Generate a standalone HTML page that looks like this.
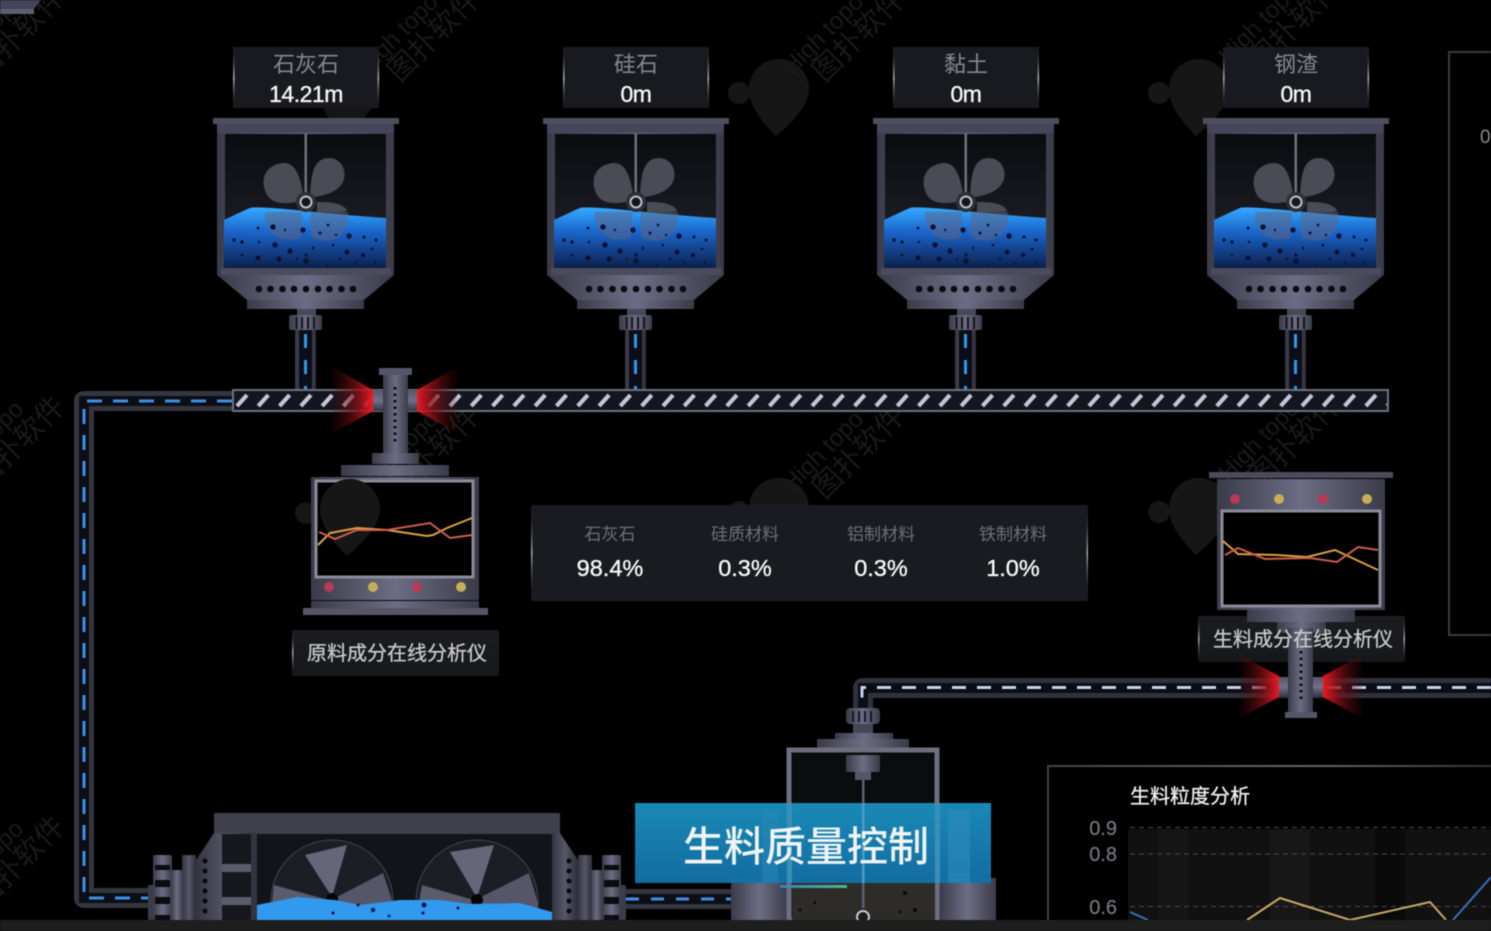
<!DOCTYPE html>
<html lang="zh"><head><meta charset="utf-8"><title>生料质量控制</title>
<style>
html,body{margin:0;padding:0;background:#000;width:1491px;height:931px;overflow:hidden}
svg{display:block;filter:blur(.5px)}
text{font-family:"Liberation Sans","Noto Sans CJK SC",sans-serif}
</style></head><body>
<svg width="1491" height="931" viewBox="0 0 1491 931" xmlns="http://www.w3.org/2000/svg">
<defs>
<linearGradient id="metalH" x1="0" x2="1" y1="0" y2="0"><stop offset="0" stop-color="#3a3b48"/><stop offset=".5" stop-color="#6c6d85"/><stop offset="1" stop-color="#3a3b48"/></linearGradient>
<linearGradient id="metalV" x1="0" x2="0" y1="0" y2="1"><stop offset="0" stop-color="#55566a"/><stop offset=".5" stop-color="#70718a"/><stop offset="1" stop-color="#33343f"/></linearGradient>
<linearGradient id="sideH" x1="0" x2="1" y1="0" y2="0"><stop offset="0" stop-color="#33343f"/><stop offset=".5" stop-color="#565768"/><stop offset="1" stop-color="#2c2d37"/></linearGradient>
<linearGradient id="win" x1="0" x2="0" y1="0" y2="1"><stop offset="0" stop-color="#0b0c10"/><stop offset="1" stop-color="#23252e"/></linearGradient>
<linearGradient id="liq" x1="0" x2="0" y1="0" y2="1"><stop offset="0" stop-color="#34aaff"/><stop offset=".4" stop-color="#1b66cc"/><stop offset="1" stop-color="#0c1f4c"/></linearGradient>
<linearGradient id="redL" x1="1" x2="0" y1="0" y2="0"><stop offset="0" stop-color="#f01820"/><stop offset=".4" stop-color="#8a0f16" stop-opacity=".75"/><stop offset="1" stop-color="#500a10" stop-opacity=".12"/></linearGradient>
<linearGradient id="redR" x1="0" x2="1" y1="0" y2="0"><stop offset="0" stop-color="#f01820"/><stop offset=".4" stop-color="#8a0f16" stop-opacity=".75"/><stop offset="1" stop-color="#500a10" stop-opacity=".12"/></linearGradient>
<linearGradient id="banner" x1="0" x2="0" y1="0" y2="1"><stop offset="0" stop-color="#1a8fbc"/><stop offset="1" stop-color="#1470a8"/></linearGradient>
<linearGradient id="lab" x1="0" x2="0" y1="0" y2="1"><stop offset="0" stop-color="#1b1c20"/><stop offset="1" stop-color="#17181c"/></linearGradient>
<linearGradient id="edge" x1="0" x2="0" y1="0" y2="1"><stop offset="0" stop-color="#555" stop-opacity="0"/><stop offset=".5" stop-color="#aaa"/><stop offset="1" stop-color="#555" stop-opacity="0"/></linearGradient>
<linearGradient id="pnl" x1="0" x2="1" y1="0" y2="0"><stop offset="0" stop-color="#444"/><stop offset=".6" stop-color="#666"/><stop offset="1" stop-color="#333"/></linearGradient>
<linearGradient id="gl" x1="0" x2="1" y1="0" y2="0"><stop offset="0" stop-color="#3d7fb5"/><stop offset="1" stop-color="#52b88c"/></linearGradient>
<pattern id="hatch" width="21.3" height="22" patternUnits="userSpaceOnUse" x="232" y="389">
<rect width="21.3" height="22" fill="#14161f"/>
<line x1="5" y1="17" x2="15" y2="6" stroke="#c4c6d6" stroke-width="4.200"/>
</pattern>
<path id="wd" d="M-30 -4a30 30 0 1 1 60 0c0 18-20 36-33 47c-10-10-27-28-27-47z" fill="#161616"/>
<g id="wm"><use href="#wd"/><circle cx="-40" cy="0" r="11" fill="#161616"/></g>
<g id="wt" fill="#1a1a1a">
<text x="0" y="0" font-size="24" transform="rotate(-45)">High topo</text>
<text x="18" y="28" font-size="29" transform="rotate(-45)">图扑软件</text>
</g>
<g id="hopper">
<rect x="-72" y="17" width="146" height="61" fill="#191a20"/>
<rect x="-72" y="22" width="1.6" height="52" fill="url(#edge)"/>
<rect x="72.5" y="22" width="1.6" height="52" fill="url(#edge)"/>
<rect x="-92" y="88" width="186" height="6" fill="#4e4f5e"/>
<rect x="-88" y="94" width="177" height="151" fill="url(#metalH)"/>
<rect x="-88" y="94" width="177" height="9" fill="#45465a"/>
<rect x="-80" y="104" width="161" height="141" fill="url(#win)"/>
<rect x="-.5" y="104" width="2.5" height="68" fill="#70717c"/>
<g fill="#494b55">
<path d="M-1 170C-8 172-30 178-38 165C-46 150-40 135-22 133C-8 132-4 150-1 170z"/>
<path d="M5 168C6 145 8 128 24 128C38 128 44 145 36 155C28 165 14 166 5 168z"/>
<path d="M12 172C22 172 36 172 42 180C42 182 36 182 30 182L12 182z"/>
</g>
<path d="M-81 190Q-60 180-55 178T0 181T81 188V238H-81z" fill="url(#liq)"/>
<path d="M-40 182C-42 205-22 214-5 208C-3 200-3 190-3 182zM6 182C5 195 5 205 8 208C26 216 46 206 43 182z" fill="#5f6480" opacity=".5"/>
<circle cx="1" cy="172" r="10" fill="#2e2f38"/><circle cx="1" cy="172" r="6.5" fill="#c0c0c8"/><circle cx="1" cy="172" r="4.5" fill="#15161c"/>
<g fill="#0a1238">
<circle cx="-47" cy="228" r="2.5"/><circle cx="-26" cy="229" r="2.6"/><circle cx="-8" cy="229" r="1.2"/><circle cx="1" cy="225" r="1.6"/><circle cx="42" cy="222" r="2.5"/><circle cx="58" cy="225" r="2.1"/><circle cx="-63" cy="225" r="1.3"/><circle cx="-47" cy="198" r="1.5"/><circle cx="-32" cy="197" r="2.7"/><circle cx="-2" cy="200" r="2.7"/><circle cx="44" cy="206" r="2.7"/><circle cx="-71" cy="210" r="1.7"/><circle cx="-63" cy="212" r="1.7"/><circle cx="-46" cy="212" r="1.2"/><circle cx="-30" cy="215" r="2.7"/><circle cx="-15" cy="221" r="2.7"/><circle cx="15" cy="203" r="1.5"/><circle cx="23" cy="195" r="1.4"/><circle cx="59" cy="207" r="1.5"/><circle cx="71" cy="210" r="1.5"/><circle cx="67" cy="219" r="1.4"/><circle cx="31" cy="205" r="1.2"/><circle cx="28" cy="215" r="1.3"/><circle cx="8" cy="218" r="1.3"/><circle cx="1" cy="231" r="2.7"/><circle cx="-20" cy="200" r="1.2"/><circle cx="22" cy="236" r="1.3"/><circle cx="50" cy="233" r="1.1"/><circle cx="70" cy="233" r="1.2"/><circle cx="35" cy="229" r="1.2"/><circle cx="-45" cy="238" r="1.2"/></g>
<path d="M-88 245H89L59 270H-58z" fill="url(#metalH)"/>
<rect x="-84" y="238" width="170" height="7" fill="#4a4b5c"/>
<g fill="#0a0a10"><circle cx="-46" cy="259" r="3.3"/><circle cx="-34.500" cy="259" r="3.300"/><circle cx="-22.500" cy="259" r="3.300"/><circle cx="-11" cy="259" r="3.300"/><circle cx="1" cy="259" r="3.300"/><circle cx="13" cy="259" r="3.300"/><circle cx="24.500" cy="259" r="3.300"/><circle cx="36.500" cy="259" r="3.300"/><circle cx="48" cy="259" r="3.300"/></g>
<rect x="-58" y="270" width="117" height="9" fill="url(#metalH)"/>
<rect x="-8" y="279" width="19" height="6" fill="#474858"/>
<rect x="-16" y="285" width="33" height="15" rx="2" fill="url(#metalH)"/>
<g stroke="#15151c" stroke-width="2"><line x1="-8.500" y1="287" x2="-8.500" y2="299"/><line x1="-3" y1="287" x2="-3" y2="299"/><line x1="3" y1="287" x2="3" y2="299"/><line x1="9" y1="287" x2="9" y2="299"/></g>
<rect x="-10" y="300" width="21" height="60" fill="url(#sideH)"/>
<rect x="-6" y="300" width="13" height="60" fill="#0b0e18"/>
<line x1=".5" y1="304" x2=".5" y2="360" stroke="#2f9be8" stroke-width="3" stroke-dasharray="14 12"/>
</g>
</defs>

<rect width="1491" height="931" fill="#000"/>

<!-- watermarks -->
<use href="#wm" x="779" y="93"/><use href="#wm" x="1199" y="93"/><use href="#wm" x="348" y="93"/>
<use href="#wm" x="779" y="512"/><use href="#wm" x="1199" y="512"/><circle cx="306" cy="513" r="11" fill="#161616"/>
<use href="#wt" x="792" y="76"/><use href="#wt" x="367" y="76"/><use href="#wt" x="1228" y="65"/><use href="#wt" x="-48" y="74"/>
<use href="#wt" x="792" y="493"/><use href="#wt" x="367" y="493"/><use href="#wt" x="1228" y="482"/><use href="#wt" x="-48" y="483"/>
<use href="#wt" x="-48" y="903"/>

<!-- top-left fragment -->
<path d="M0 0H41L30 14H0z" fill="#43445a"/><rect y="9" width="34" height="5" fill="#5e5f72"/>

<!-- right frame -->
<path d="M1491 52H1449V635H1491" fill="none" stroke="#3b3b3d" stroke-width="2"/>
<text x="1480" y="143" font-size="19" fill="#8a8a8a">0</text>

<!-- main pipes -->
<path d="M232 401H84V898H150" fill="none" stroke="#34363f" stroke-width="20" stroke-linejoin="round"/>
<path d="M232 401H84V898H150" fill="none" stroke="#0c0e16" stroke-width="10"/>
<path d="M232 401H84V898H150" fill="none" stroke="#3b8fe6" stroke-width="3" stroke-dasharray="15 11"/>
<path d="M622 899H735" fill="none" stroke="#34363f" stroke-width="20"/>
<path d="M622 899H735" fill="none" stroke="#0c0e16" stroke-width="10"/>
<path d="M626 899H735" fill="none" stroke="#3b8fe6" stroke-width="3" stroke-dasharray="13 12"/>

<!-- hoppers -->
<use href="#hopper" x="305" y="30"/><use href="#hopper" x="635" y="30"/><use href="#hopper" x="965" y="30"/><use href="#hopper" x="1295" y="30"/>
<g text-anchor="middle" font-size="22" fill="#858691">
<text x="306" y="72">石灰石</text><text x="636" y="72">硅石</text><text x="966" y="72">黏土</text><text x="1296" y="72">钢渣</text>
</g>
<g text-anchor="middle" font-size="23" fill="#f8f8f8" stroke="#f8f8f8" stroke-width=".35" letter-spacing="-.5">
<text x="306" y="102">14.21m</text><text x="636" y="102">0m</text><text x="966" y="102">0m</text><text x="1296" y="102">0m</text>
</g>

<!-- belt -->
<rect x="233" y="390" width="1155" height="21" fill="url(#hatch)" stroke="#6e7080" stroke-width="2"/>

<!-- left valve + analyzer -->
<polygon points="373,390 333,367 333,433 373,411" fill="url(#redL)"/>
<polygon points="417,390 457,367 457,433 417,411" fill="url(#redR)"/>
<rect x="373" y="390" width="44" height="21" fill="url(#metalV)"/>
<rect x="383" y="372" width="25" height="84" fill="url(#metalH)"/>
<rect x="379" y="368" width="33" height="7" fill="#55566a"/>
<line x1="395" y1="387" x2="395" y2="443" stroke="#0d0e1a" stroke-width="3" stroke-dasharray="2.500 4"/>
<rect x="372" y="453" width="47" height="11" fill="url(#metalH)"/>
<rect x="341" y="465" width="108" height="11" fill="url(#metalH)"/>
<rect x="311" y="477" width="168" height="123" fill="url(#metalH)"/>
<rect x="316" y="481" width="157" height="96" fill="#000" stroke="#8a8b99" stroke-width="3"/>
<use href="#wd" x="350" y="513"/>
<polyline points="318,545 330,533 357,528 387,530 427,536 433,535 447,528 472,518" fill="none" stroke="#e0a040" stroke-width="2"/>
<polyline points="319,532 335,539 357,530 387,530 430,523 450,538 472,535" fill="none" stroke="#d05c4e" stroke-width="2"/>
<circle cx="329" cy="587" r="5" fill="#b83a56"/><circle cx="373" cy="587" r="5" fill="#c8ae56"/><circle cx="417" cy="587" r="5" fill="#b83a56"/><circle cx="461" cy="587" r="5" fill="#c8ae56"/>
<rect x="311" y="601" width="168" height="7" fill="url(#metalH)"/>
<rect x="311" y="600" width="168" height="1" fill="#0a0a12"/>
<rect x="303" y="608" width="185" height="7" fill="#55566a"/>
<rect x="292" y="630" width="207" height="46" rx="2" fill="url(#lab)"/>
<rect x="292" y="634" width="1.500" height="38" fill="url(#edge)"/>
<text x="397" y="660" font-size="20" fill="#c9c9ca" stroke="#c9c9ca" stroke-width=".3" text-anchor="middle">原料成分在线分析仪</text>

<!-- stats -->
<rect x="531" y="505" width="557" height="96" rx="2" fill="#191b21"/>
<rect x="531" y="515" width="1.500" height="76" fill="url(#edge)"/>
<rect x="1086.500" y="515" width="1.500" height="76" fill="url(#edge)"/>
<g text-anchor="middle" font-size="17" fill="#6e6f7b">
<text x="610" y="540">石灰石</text><text x="745" y="540">硅质材料</text><text x="881" y="540">铝制材料</text><text x="1013" y="540">铁制材料</text>
</g>
<g text-anchor="middle" font-size="23.500" fill="#f8f8f8" stroke="#f8f8f8" stroke-width=".35">
<text x="610" y="576">98.4%</text><text x="745" y="576">0.3%</text><text x="881" y="576">0.3%</text><text x="1013" y="576">1.0%</text>
</g>

<!-- right pipe -->
<path d="M1491 688H863V712" fill="none" stroke="#2f313c" stroke-width="20" stroke-linejoin="round"/>
<path d="M1491 688H863V712" fill="none" stroke="#0c0e16" stroke-width="10"/>
<path d="M1491 687.500H862V700" fill="none" stroke="#c5d0ec" stroke-width="3" stroke-dasharray="14 11"/>

<!-- right analyzer -->
<rect x="1209" y="472" width="184" height="6" fill="#4b4c5b"/>
<rect x="1217" y="479" width="168" height="131" fill="url(#metalH)"/>
<rect x="1222" y="511" width="158" height="95" fill="#000" stroke="#8a8b99" stroke-width="3"/>
<polyline points="1223,541 1238,554 1277,555 1307,557 1335,550 1378,570" fill="none" stroke="#d9a23c" stroke-width="2"/>
<polyline points="1225,555 1238,548 1265,559 1310,558 1337,562 1358,547 1378,550" fill="none" stroke="#cc5c4e" stroke-width="2"/>
<circle cx="1235" cy="499" r="5" fill="#b83a56"/><circle cx="1279" cy="499" r="5" fill="#c8ae56"/><circle cx="1323" cy="499" r="5" fill="#b83a56"/><circle cx="1367" cy="499" r="5" fill="#c8ae56"/>
<rect x="1198" y="616" width="207" height="46" rx="2" fill="url(#lab)"/>
<rect x="1198" y="620" width="1.500" height="38" fill="url(#edge)"/>
<rect x="1403.500" y="620" width="1.500" height="38" fill="url(#edge)"/>
<rect x="1247" y="610" width="108" height="12" fill="url(#metalH)"/>
<rect x="1277" y="622" width="49" height="11" fill="url(#metalH)"/>
<polygon points="1279,676 1240,655 1240,718 1279,697" fill="url(#redL)"/>
<polygon points="1323,676 1362,655 1362,718 1323,697" fill="url(#redR)"/>
<rect x="1279" y="677" width="44" height="20" fill="url(#metalV)"/>
<rect x="1288" y="628" width="25" height="84" fill="url(#metalH)"/>
<rect x="1285" y="712" width="32" height="6" fill="#55566a"/>
<line x1="1301" y1="651" x2="1301" y2="701" stroke="#0d0e1a" stroke-width="3" stroke-dasharray="2.500 4"/>
<text x="1303" y="646" font-size="20" fill="#c9c9ca" stroke="#c9c9ca" stroke-width=".3" text-anchor="middle">生料成分在线分析仪</text>

<!-- centre tank -->
<rect x="846" y="708" width="34" height="16" rx="4" fill="url(#metalH)"/>
<g stroke="#17171e" stroke-width="2"><line x1="853" y1="711" x2="853" y2="722"/><line x1="859" y1="711" x2="859" y2="722"/><line x1="865" y1="711" x2="865" y2="722"/><line x1="871" y1="711" x2="871" y2="722"/></g>
<rect x="853" y="724" width="20" height="9" fill="#45465a"/>
<rect x="835" y="733" width="58" height="6" fill="url(#metalH)"/>
<rect x="817" y="739" width="92" height="9" fill="url(#metalH)"/>
<rect x="731" y="878" width="57" height="42" fill="url(#metalH)"/>
<rect x="939" y="878" width="57" height="42" fill="url(#metalH)"/>
<rect x="789" y="750" width="148" height="170" fill="#0b0c0e" stroke="#6d6e7e" stroke-width="5"/>
<rect x="792" y="880" width="143" height="40" fill="#2d2c28"/>
<rect x="846" y="755" width="34" height="17" rx="2" fill="url(#metalH)"/>
<rect x="855" y="772" width="16" height="8" fill="#55566a"/>
<rect x="862" y="780" width="2.500" height="128" fill="#5f6070"/>
<circle cx="863" cy="917" r="6" fill="#1b1b20" stroke="#c8c8d0" stroke-width="2"/>
<g fill="#0a0a0c"><circle cx="905" cy="893" r="2"/><circle cx="915" cy="910" r="2"/><circle cx="800" cy="910" r="1.500"/><circle cx="815" cy="903" r="1.500"/><circle cx="900" cy="912" r="1.500"/></g>

<!-- mill -->
<rect x="214" y="813" width="346" height="21" fill="#403f4c"/>
<polygon points="214,833 196,860 196,920 256,920 256,833" fill="url(#sideH)"/>
<polygon points="560,833 578,860 578,920 552,920 552,833" fill="url(#sideH)"/>
<rect x="222" y="834" width="29" height="86" fill="#17181e"/>
<rect x="222" y="864" width="29" height="8" fill="#5a5b6c"/><rect x="222" y="897" width="29" height="8" fill="#5a5b6c"/>
<rect x="251" y="834" width="6" height="86" fill="#33343f"/>
<rect x="257" y="834" width="295" height="86" fill="#131419"/>
<circle cx="332" cy="901" r="61" fill="#1d1e25" stroke="#44454f" stroke-width="1"/>
<polygon points="332,897 305,855 347,845" fill="#65667a"/>
<polygon points="332,901 274,885 270,920 330,920" fill="#5a5b6c"/>
<polygon points="337,897 383,873 393,903 393,920 335,920" fill="#55566a"/>
<circle cx="332" cy="899" r="6" fill="#050508"/>
<circle cx="477" cy="901" r="61" fill="#1d1e25" stroke="#44454f" stroke-width="1"/>
<polygon points="477,898 450,852 494,845" fill="#65667a"/>
<polygon points="477,901 422,885 416,920 475,920" fill="#5a5b6c"/>
<polygon points="481,897 529,873 538,903 538,920 480,920" fill="#55566a"/>
<circle cx="477" cy="900" r="6" fill="#050508"/>
<path d="M257 905L297 897L335 900L360 905L400 900L440 900L470 904L520 903L552 912V920H257z" fill="#3199ee"/>
<g fill="#0a1a50"><circle cx="373" cy="910" r="2.200"/><circle cx="389" cy="916" r="1.500"/><circle cx="424" cy="905" r="2.500"/><circle cx="423" cy="913" r="1.500"/><circle cx="458" cy="908" r="1.500"/><circle cx="358" cy="905" r="1.500"/><circle cx="333" cy="913" r="1.500"/></g>
<g fill="#0a0a10"><circle cx="205" cy="861" r="2.500"/><circle cx="205" cy="871" r="2.500"/><circle cx="205" cy="881" r="2.500"/><circle cx="205" cy="891" r="2.500"/><circle cx="205" cy="901" r="2.500"/><circle cx="205" cy="911" r="2.500"/>
<circle cx="569" cy="861" r="2.500"/><circle cx="569" cy="871" r="2.500"/><circle cx="569" cy="881" r="2.500"/><circle cx="569" cy="891" r="2.500"/><circle cx="569" cy="901" r="2.500"/><circle cx="569" cy="911" r="2.500"/></g>
<rect x="182" y="855" width="14" height="65" fill="url(#sideH)"/>
<rect x="171" y="870" width="12" height="50" fill="url(#metalH)"/>
<rect x="148" y="885" width="6" height="35" rx="2" fill="#3c3d4a"/><rect x="153" y="855" width="19" height="65" rx="2" fill="url(#metalH)"/>
<g fill="#0b0b10"><rect x="155" y="865" width="15" height="5"/><rect x="155" y="880" width="15" height="7"/><rect x="155" y="897" width="15" height="7"/><rect x="155" y="915" width="15" height="5"/></g>
<rect x="578" y="855" width="14" height="65" fill="url(#sideH)"/>
<rect x="591" y="870" width="11" height="50" fill="url(#metalH)"/>
<rect x="602" y="855" width="19" height="65" rx="2" fill="url(#metalH)"/><rect x="620" y="885" width="6" height="35" rx="2" fill="#3c3d4a"/>
<g fill="#0b0b10"><rect x="604" y="865" width="15" height="5"/><rect x="604" y="880" width="15" height="7"/><rect x="604" y="897" width="15" height="7"/><rect x="604" y="915" width="15" height="5"/></g>

<!-- banner -->
<rect x="635" y="803" width="356" height="80" fill="url(#banner)" opacity=".96"/>
<rect x="862" y="803" width="2.500" height="80" fill="#4a9cc4"/>
<rect x="787" y="803" width="5" height="80" fill="#3a8fb8"/><rect x="935" y="803" width="5" height="80" fill="#3a8fb8"/>
<rect x="762" y="810" width="16" height="73" fill="#2a88b8" opacity=".5"/><rect x="948" y="810" width="22" height="73" fill="#2f8abc" opacity=".6"/>
<text x="806" y="861" font-size="41" fill="#eef3f7" text-anchor="middle" font-weight="500">生料质量控制</text>
<rect x="780" y="885" width="67" height="3" fill="url(#gl)"/>

<!-- chart -->
<path d="M1048 920V766H1491" fill="none" stroke="url(#pnl)" stroke-width="2"/>
<text x="1130" y="803" font-size="20" fill="#f0f0f0" stroke="#f0f0f0" stroke-width=".3">生料粒度分析</text>
<g font-size="20" fill="#777880" stroke="#777880" stroke-width=".2" text-anchor="end"><text x="1117" y="835">0.9</text><text x="1117" y="861">0.8</text><text x="1117" y="914">0.6</text></g>
<rect x="1128" y="829" width="363" height="91" fill="#111"/>
<rect x="1158" y="829" width="30" height="91" fill="#161616"/><rect x="1270" y="829" width="40" height="91" fill="#171717"/><rect x="1375" y="829" width="30" height="91" fill="#0a0a0a"/>
<g stroke="#4a4a4a" stroke-dasharray="5 4" stroke-width="1"><line x1="1130" y1="827.500" x2="1491" y2="827.500"/><line x1="1130" y1="854" x2="1491" y2="854"/><line x1="1130" y1="906.500" x2="1491" y2="906.500"/></g>
<polyline points="1247,920 1280,898 1350,920 1430,902 1446,920" fill="none" stroke="#c9a868" stroke-width="2"/>
<polyline points="1130,912 1148,920" fill="none" stroke="#3d6fb5" stroke-width="2"/>
<polyline points="1453,920 1491,877" fill="none" stroke="#3d6fb5" stroke-width="2"/>

<!-- bottom bar -->
<rect x="-3" y="920" width="1497" height="14" fill="#1e1e1e"/>
</svg>
</body></html>
